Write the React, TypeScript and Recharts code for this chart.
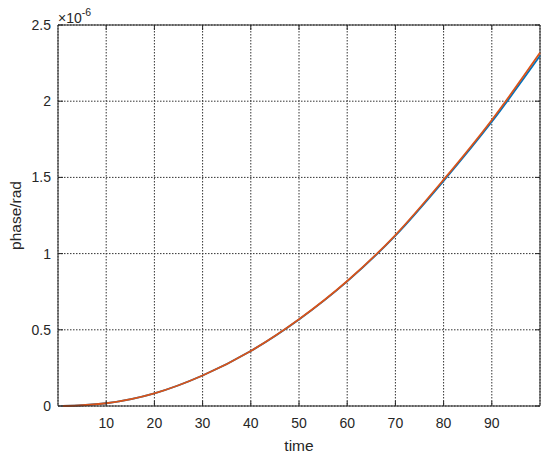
import React from 'react';
import { LineChart, Line, XAxis, YAxis, CartesianGrid, ReferenceLine } from 'recharts';

const times = [1, 5, 10, 20, 30, 40, 50, 60, 70, 80, 90, 100];
const blueValues = [0, 0.005, 0.018, 0.083, 0.2, 0.361, 0.568, 0.818, 1.118, 1.477, 1.865, 2.298];
const orangeValues = [0, 0.005, 0.018, 0.083, 0.2, 0.361, 0.569, 0.82, 1.122, 1.485, 1.877, 2.318];
const xTicks = [10, 20, 30, 40, 50, 60, 70, 80, 90];
const yTicks = [0, 0.5, 1, 1.5, 2, 2.5];
const yTickLabels = ['0', '0.5', '1', '1.5', '2', '2.5'];

const data = times.map((t, i) => ({ t, blue: blueValues[i], orange: orangeValues[i] }));

const W = 550;
const H = 456;
const TOP = 25;
const LEFT = 58;
const RIGHT_M = 10;
const XH = 50;
const PB = H - XH;
const PR = W - RIGHT_M;
const AX = '#262626';
const FONT = 'Liberation Sans, Arial, Helvetica, sans-serif';
const FS = 14;

const XTick = (props: any) => {
  const { x, y, payload } = props;
  return (
    <g>
      <line x1={x} x2={x} y1={PB} y2={PB - 5} stroke={AX} strokeWidth={1} />
      <line x1={x} x2={x} y1={TOP} y2={TOP + 5} stroke={AX} strokeWidth={1} />
      <text x={x} y={y} dy="0.71em" textAnchor="middle" fill={AX} fontSize={FS} fontFamily={FONT}>
        {payload.value}
      </text>
    </g>
  );
};

const YTick = (props: any) => {
  const { x, y, payload } = props;
  const idx = yTicks.indexOf(payload.value);
  const label = idx >= 0 ? yTickLabels[idx] : String(payload.value);
  return (
    <g>
      <line x1={LEFT} x2={LEFT + 5} y1={y} y2={y} stroke={AX} strokeWidth={1} />
      <line x1={PR} x2={PR - 5} y1={y} y2={y} stroke={AX} strokeWidth={1} />
      <text x={x} y={y} dy="0.355em" textAnchor="end" fill={AX} fontSize={FS} fontFamily={FONT}>
        {label}
      </text>
    </g>
  );
};

const YLabel = (props: any) => {
  const vb = props.viewBox || { x: 0, y: TOP, width: LEFT, height: PB - TOP };
  const cx = vb.x + 21;
  const cy = vb.y + vb.height / 2;
  return (
    <g>
      <text
        x={cx}
        y={cy}
        transform={`rotate(-90, ${cx}, ${cy})`}
        textAnchor="middle"
        fill={AX}
        fontSize={15.5}
        fontFamily={FONT}
      >
        phase/rad
      </text>
      <text x={vb.x + vb.width} y={22.5} fill={AX} fontSize={14} fontFamily={FONT}>
        ×10
        <tspan dy={-7} fontSize={10.5}>
          -6
        </tspan>
      </text>
    </g>
  );
};

export default function App() {
  return (
    <div style={{ position: 'absolute', left: 0, top: 0, width: W, height: H, background: '#fff' }}>
      <LineChart width={W} height={H} data={data} margin={{ top: TOP, right: RIGHT_M, bottom: 0, left: 0 }}>
        <CartesianGrid stroke="#333" strokeDasharray="1.5 1.5" />
        <XAxis
          dataKey="t"
          type="number"
          domain={[0, 100]}
          ticks={xTicks}
          height={XH}
          tickLine={false}
          tickSize={0}
          tickMargin={12}
          axisLine={{ stroke: AX }}
          tick={<XTick />}
          label={{ value: 'time', position: 'insideBottom', offset: 5, fill: AX, fontSize: 15.5, fontFamily: FONT }}
        />
        <YAxis
          type="number"
          domain={[0, 2.5]}
          ticks={yTicks}
          width={LEFT}
          tickLine={false}
          tickSize={0}
          tickMargin={7}
          axisLine={{ stroke: AX }}
          tick={<YTick />}
          label={<YLabel />}
        />
        <ReferenceLine y={2.5} stroke={AX} />
        <ReferenceLine x={100} stroke={AX} />
        <Line
          type="monotone"
          dataKey="blue"
          stroke="#0072BD"
          strokeWidth={1.8}
          dot={false}
          isAnimationActive={false}
        />
        <Line
          type="monotone"
          dataKey="orange"
          stroke="#D95319"
          strokeWidth={1.8}
          dot={false}
          isAnimationActive={false}
        />
      </LineChart>
    </div>
  );
}
